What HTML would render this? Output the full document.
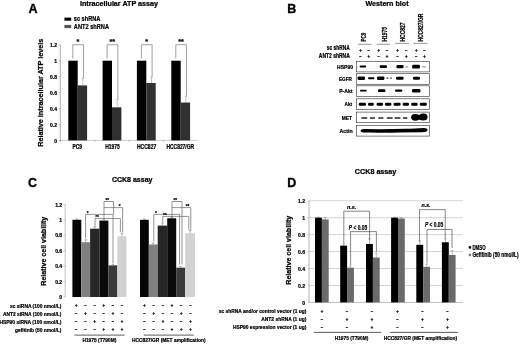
<!DOCTYPE html>
<html lang="en"><head><meta charset="utf-8"><title>Figure</title>
<style>
html,body{margin:0;padding:0;background:#fff;}
body{width:520px;height:344px;overflow:hidden;}
svg{display:block;filter:blur(0.35px);font-family:"Liberation Sans",Arial,Helvetica,sans-serif;}
</style></head><body>
<svg width="520" height="344" viewBox="0 0 520 344">
<rect width="520" height="344" fill="#fff"/>
<g id="panelA">
<text x="28.50" y="12.75" font-size="12.5" font-weight="bold" text-anchor="start" textLength="9.03" lengthAdjust="spacingAndGlyphs" fill="#000" stroke="#000" stroke-width="0.35">A</text>
<text x="119.00" y="6.40" font-size="7" font-weight="bold" text-anchor="middle" textLength="78.00" lengthAdjust="spacingAndGlyphs" fill="#000" stroke="#000" stroke-width="0.24">Intracellular ATP assay</text>
<rect x="64.40" y="17.60" width="6.80" height="3.10" fill="#000"/>
<text x="73.80" y="21.00" font-size="7.4" font-weight="bold" text-anchor="start" textLength="26.50" lengthAdjust="spacingAndGlyphs" fill="#000" stroke="#000" stroke-width="0.24">sc shRNA</text>
<rect x="64.40" y="24.90" width="6.80" height="3.20" fill="#555"/>
<text x="73.80" y="28.50" font-size="7.4" font-weight="bold" text-anchor="start" textLength="35.20" lengthAdjust="spacingAndGlyphs" fill="#000" stroke="#000" stroke-width="0.24">ANT2 shRNA</text>
<text x="42.60" y="92.80" font-size="7.2" font-weight="bold" text-anchor="middle" textLength="108.00" lengthAdjust="spacingAndGlyphs" fill="#000" stroke="#000" stroke-width="0.24" transform="rotate(-90 42.60 92.80)">Relative intracellular ATP levels</text>
<line x1="60.30" y1="44.76" x2="60.30" y2="141.90" stroke="#888" stroke-width="0.7"/>
<line x1="60.30" y1="140.40" x2="197.50" y2="140.40" stroke="#aaa" stroke-width="0.6"/>
<line x1="58.80" y1="140.40" x2="60.30" y2="140.40" stroke="#888" stroke-width="0.6"/>
<text x="57.00" y="142.60" font-size="6.2" font-weight="bold" text-anchor="end" textLength="2.83" lengthAdjust="spacingAndGlyphs" fill="#000" stroke="#000" stroke-width="0.24">0</text>
<line x1="58.80" y1="124.46" x2="60.30" y2="124.46" stroke="#888" stroke-width="0.6"/>
<text x="57.00" y="126.66" font-size="6.2" font-weight="bold" text-anchor="end" textLength="7.07" lengthAdjust="spacingAndGlyphs" fill="#000" stroke="#000" stroke-width="0.24">0.2</text>
<line x1="58.80" y1="108.52" x2="60.30" y2="108.52" stroke="#888" stroke-width="0.6"/>
<text x="57.00" y="110.72" font-size="6.2" font-weight="bold" text-anchor="end" textLength="7.07" lengthAdjust="spacingAndGlyphs" fill="#000" stroke="#000" stroke-width="0.24">0.4</text>
<line x1="58.80" y1="92.58" x2="60.30" y2="92.58" stroke="#888" stroke-width="0.6"/>
<text x="57.00" y="94.78" font-size="6.2" font-weight="bold" text-anchor="end" textLength="7.07" lengthAdjust="spacingAndGlyphs" fill="#000" stroke="#000" stroke-width="0.24">0.6</text>
<line x1="58.80" y1="76.64" x2="60.30" y2="76.64" stroke="#888" stroke-width="0.6"/>
<text x="57.00" y="78.84" font-size="6.2" font-weight="bold" text-anchor="end" textLength="7.07" lengthAdjust="spacingAndGlyphs" fill="#000" stroke="#000" stroke-width="0.24">0.8</text>
<line x1="58.80" y1="60.70" x2="60.30" y2="60.70" stroke="#888" stroke-width="0.6"/>
<text x="57.00" y="62.90" font-size="6.2" font-weight="bold" text-anchor="end" textLength="2.83" lengthAdjust="spacingAndGlyphs" fill="#000" stroke="#000" stroke-width="0.24">1</text>
<line x1="58.80" y1="44.76" x2="60.30" y2="44.76" stroke="#888" stroke-width="0.6"/>
<text x="57.00" y="46.96" font-size="6.2" font-weight="bold" text-anchor="end" textLength="7.07" lengthAdjust="spacingAndGlyphs" fill="#000" stroke="#000" stroke-width="0.24">1.2</text>
<rect x="68.30" y="60.70" width="9.40" height="79.70" fill="#000"/>
<rect x="77.70" y="85.41" width="9.40" height="54.99" fill="#303030"/>
<line x1="82.90" y1="78.63" x2="82.90" y2="85.41" stroke="#888" stroke-width="0.5"/>
<line x1="81.40" y1="78.63" x2="84.40" y2="78.63" stroke="#888" stroke-width="0.5"/>
<polyline points="72.80,58.50 72.80,44.76 83.50,44.76 83.50,78.13" fill="none" stroke="#777" stroke-width="0.7"/>
<text x="78.00" y="44.16" font-size="8" font-weight="bold" text-anchor="middle" textLength="2.80" lengthAdjust="spacingAndGlyphs" fill="#000" stroke="#000" stroke-width="0.24">*</text>
<text x="77.30" y="149.40" font-size="6.6" font-weight="bold" text-anchor="middle" textLength="9.60" lengthAdjust="spacingAndGlyphs" fill="#000" stroke="#000" stroke-width="0.24">PC9</text>
<line x1="94.80" y1="140.40" x2="94.80" y2="141.90" stroke="#888" stroke-width="0.6"/>
<rect x="102.60" y="60.70" width="9.40" height="79.70" fill="#000"/>
<rect x="112.00" y="107.32" width="9.40" height="33.08" fill="#303030"/>
<line x1="117.20" y1="99.35" x2="117.20" y2="107.32" stroke="#888" stroke-width="0.5"/>
<line x1="115.70" y1="99.35" x2="118.70" y2="99.35" stroke="#888" stroke-width="0.5"/>
<polyline points="107.10,58.50 107.10,44.76 117.80,44.76 117.80,98.85" fill="none" stroke="#777" stroke-width="0.7"/>
<text x="112.30" y="44.16" font-size="8" font-weight="bold" text-anchor="middle" textLength="5.60" lengthAdjust="spacingAndGlyphs" fill="#000" stroke="#000" stroke-width="0.24">**</text>
<text x="112.50" y="149.40" font-size="6.6" font-weight="bold" text-anchor="middle" textLength="14.60" lengthAdjust="spacingAndGlyphs" fill="#000" stroke="#000" stroke-width="0.24">H1975</text>
<line x1="129.10" y1="140.40" x2="129.10" y2="141.90" stroke="#888" stroke-width="0.6"/>
<rect x="136.90" y="60.70" width="9.40" height="79.70" fill="#000"/>
<rect x="146.30" y="83.02" width="9.40" height="57.38" fill="#303030"/>
<line x1="151.50" y1="77.04" x2="151.50" y2="83.02" stroke="#888" stroke-width="0.5"/>
<line x1="150.00" y1="77.04" x2="153.00" y2="77.04" stroke="#888" stroke-width="0.5"/>
<polyline points="141.40,58.50 141.40,44.76 152.10,44.76 152.10,76.54" fill="none" stroke="#777" stroke-width="0.7"/>
<text x="146.60" y="44.16" font-size="8" font-weight="bold" text-anchor="middle" textLength="2.80" lengthAdjust="spacingAndGlyphs" fill="#000" stroke="#000" stroke-width="0.24">*</text>
<text x="146.60" y="149.40" font-size="6.6" font-weight="bold" text-anchor="middle" textLength="19.30" lengthAdjust="spacingAndGlyphs" fill="#000" stroke="#000" stroke-width="0.24">HCC827</text>
<line x1="163.40" y1="140.40" x2="163.40" y2="141.90" stroke="#888" stroke-width="0.6"/>
<rect x="171.30" y="60.70" width="9.40" height="79.70" fill="#000"/>
<rect x="180.70" y="102.54" width="9.40" height="37.86" fill="#303030"/>
<line x1="185.90" y1="96.17" x2="185.90" y2="102.54" stroke="#888" stroke-width="0.5"/>
<line x1="184.40" y1="96.17" x2="187.40" y2="96.17" stroke="#888" stroke-width="0.5"/>
<polyline points="175.80,58.50 175.80,44.76 186.50,44.76 186.50,95.67" fill="none" stroke="#777" stroke-width="0.7"/>
<text x="181.00" y="44.16" font-size="8" font-weight="bold" text-anchor="middle" textLength="5.60" lengthAdjust="spacingAndGlyphs" fill="#000" stroke="#000" stroke-width="0.24">**</text>
<text x="180.30" y="149.40" font-size="6.6" font-weight="bold" text-anchor="middle" textLength="27.60" lengthAdjust="spacingAndGlyphs" fill="#000" stroke="#000" stroke-width="0.24">HCC827/GR</text>
</g>
<g id="panelB">
<text x="287.20" y="12.60" font-size="12.5" font-weight="bold" text-anchor="start" textLength="9.03" lengthAdjust="spacingAndGlyphs" fill="#000" stroke="#000" stroke-width="0.35">B</text>
<text x="387.00" y="6.40" font-size="7" font-weight="bold" text-anchor="middle" textLength="43.00" lengthAdjust="spacingAndGlyphs" fill="#000" stroke="#000" stroke-width="0.24">Western blot</text>
<text x="349.80" y="50.30" font-size="6.5" font-weight="bold" text-anchor="end" textLength="23.00" lengthAdjust="spacingAndGlyphs" fill="#000" stroke="#000" stroke-width="0.24">sc shRNA</text>
<text x="349.80" y="58.20" font-size="6.5" font-weight="bold" text-anchor="end" textLength="31.00" lengthAdjust="spacingAndGlyphs" fill="#000" stroke="#000" stroke-width="0.24">ANT2 shRNA</text>
<text x="360.40" y="51.90" font-size="4.8" font-weight="bold" text-anchor="middle" textLength="2.52" lengthAdjust="spacingAndGlyphs" fill="#000" stroke="#000" stroke-width="0.24">+</text>
<text x="360.40" y="57.60" font-size="4.8" font-weight="bold" text-anchor="middle" textLength="2.52" lengthAdjust="spacingAndGlyphs" fill="#000" stroke="#000" stroke-width="0.24">−</text>
<text x="368.80" y="51.90" font-size="4.8" font-weight="bold" text-anchor="middle" textLength="2.52" lengthAdjust="spacingAndGlyphs" fill="#000" stroke="#000" stroke-width="0.24">−</text>
<text x="368.80" y="57.60" font-size="4.8" font-weight="bold" text-anchor="middle" textLength="2.52" lengthAdjust="spacingAndGlyphs" fill="#000" stroke="#000" stroke-width="0.24">+</text>
<text x="378.80" y="51.90" font-size="4.8" font-weight="bold" text-anchor="middle" textLength="2.52" lengthAdjust="spacingAndGlyphs" fill="#000" stroke="#000" stroke-width="0.24">+</text>
<text x="378.80" y="57.60" font-size="4.8" font-weight="bold" text-anchor="middle" textLength="2.52" lengthAdjust="spacingAndGlyphs" fill="#000" stroke="#000" stroke-width="0.24">−</text>
<text x="387.00" y="51.90" font-size="4.8" font-weight="bold" text-anchor="middle" textLength="2.52" lengthAdjust="spacingAndGlyphs" fill="#000" stroke="#000" stroke-width="0.24">−</text>
<text x="387.00" y="57.60" font-size="4.8" font-weight="bold" text-anchor="middle" textLength="2.52" lengthAdjust="spacingAndGlyphs" fill="#000" stroke="#000" stroke-width="0.24">+</text>
<text x="397.50" y="51.90" font-size="4.8" font-weight="bold" text-anchor="middle" textLength="2.52" lengthAdjust="spacingAndGlyphs" fill="#000" stroke="#000" stroke-width="0.24">+</text>
<text x="397.50" y="57.60" font-size="4.8" font-weight="bold" text-anchor="middle" textLength="2.52" lengthAdjust="spacingAndGlyphs" fill="#000" stroke="#000" stroke-width="0.24">−</text>
<text x="406.20" y="51.90" font-size="4.8" font-weight="bold" text-anchor="middle" textLength="2.52" lengthAdjust="spacingAndGlyphs" fill="#000" stroke="#000" stroke-width="0.24">−</text>
<text x="406.20" y="57.60" font-size="4.8" font-weight="bold" text-anchor="middle" textLength="2.52" lengthAdjust="spacingAndGlyphs" fill="#000" stroke="#000" stroke-width="0.24">+</text>
<text x="416.20" y="51.90" font-size="4.8" font-weight="bold" text-anchor="middle" textLength="2.52" lengthAdjust="spacingAndGlyphs" fill="#000" stroke="#000" stroke-width="0.24">+</text>
<text x="416.20" y="57.60" font-size="4.8" font-weight="bold" text-anchor="middle" textLength="2.52" lengthAdjust="spacingAndGlyphs" fill="#000" stroke="#000" stroke-width="0.24">−</text>
<text x="424.60" y="51.90" font-size="4.8" font-weight="bold" text-anchor="middle" textLength="2.52" lengthAdjust="spacingAndGlyphs" fill="#000" stroke="#000" stroke-width="0.24">−</text>
<text x="424.60" y="57.60" font-size="4.8" font-weight="bold" text-anchor="middle" textLength="2.52" lengthAdjust="spacingAndGlyphs" fill="#000" stroke="#000" stroke-width="0.24">+</text>
<text x="366.50" y="41.60" font-size="6.5" font-weight="bold" text-anchor="start" textLength="8.80" lengthAdjust="spacingAndGlyphs" fill="#000" stroke="#000" stroke-width="0.25" transform="rotate(-90 366.50 41.60)">PC9</text>
<text x="386.60" y="41.60" font-size="6.5" font-weight="bold" text-anchor="start" textLength="14.50" lengthAdjust="spacingAndGlyphs" fill="#000" stroke="#000" stroke-width="0.25" transform="rotate(-90 386.60 41.60)">H1975</text>
<text x="405.30" y="41.60" font-size="6.5" font-weight="bold" text-anchor="start" textLength="19.20" lengthAdjust="spacingAndGlyphs" fill="#000" stroke="#000" stroke-width="0.25" transform="rotate(-90 405.30 41.60)">HCC827</text>
<text x="422.80" y="41.60" font-size="6.5" font-weight="bold" text-anchor="start" textLength="28.00" lengthAdjust="spacingAndGlyphs" fill="#000" stroke="#000" stroke-width="0.25" transform="rotate(-90 422.80 41.60)">HCC827/GR</text>
<line x1="358.00" y1="44.30" x2="371.60" y2="44.30" stroke="#555" stroke-width="0.6"/>
<line x1="376.60" y1="44.30" x2="390.00" y2="44.30" stroke="#555" stroke-width="0.6"/>
<line x1="395.00" y1="43.40" x2="409.00" y2="43.40" stroke="#555" stroke-width="0.6"/>
<line x1="413.50" y1="43.40" x2="427.40" y2="43.40" stroke="#555" stroke-width="0.6"/>
<rect x="356.4" y="61.3" width="73.20" height="10.6" fill="#fff" stroke="#3a3a3a" stroke-width="0.65"/>
<text x="353.00" y="68.90" font-size="6.2" font-weight="bold" text-anchor="end" textLength="16.00" lengthAdjust="spacingAndGlyphs" fill="#000" stroke="#000" stroke-width="0.24">HSP90</text>
<rect x="356.4" y="73.7" width="73.20" height="10.6" fill="#fff" stroke="#3a3a3a" stroke-width="0.65"/>
<text x="352.00" y="81.30" font-size="6.2" font-weight="bold" text-anchor="end" textLength="13.00" lengthAdjust="spacingAndGlyphs" fill="#000" stroke="#000" stroke-width="0.24">EGFR</text>
<rect x="356.4" y="85.8" width="73.20" height="10.6" fill="#fff" stroke="#3a3a3a" stroke-width="0.65"/>
<text x="352.40" y="93.40" font-size="6.2" font-weight="bold" text-anchor="end" textLength="13.20" lengthAdjust="spacingAndGlyphs" fill="#000" stroke="#000" stroke-width="0.24">P-Akt</text>
<rect x="356.4" y="98.8" width="73.20" height="10.6" fill="#fff" stroke="#3a3a3a" stroke-width="0.65"/>
<text x="352.20" y="106.40" font-size="6.2" font-weight="bold" text-anchor="end" textLength="7.60" lengthAdjust="spacingAndGlyphs" fill="#000" stroke="#000" stroke-width="0.24">Akt</text>
<rect x="356.4" y="112.1" width="73.20" height="10.6" fill="#fff" stroke="#3a3a3a" stroke-width="0.65"/>
<text x="352.00" y="119.70" font-size="6.2" font-weight="bold" text-anchor="end" textLength="10.30" lengthAdjust="spacingAndGlyphs" fill="#000" stroke="#000" stroke-width="0.24">MET</text>
<rect x="356.4" y="125.5" width="73.20" height="10.6" fill="#fff" stroke="#3a3a3a" stroke-width="0.65"/>
<text x="352.60" y="133.10" font-size="6.2" font-weight="bold" text-anchor="end" textLength="13.00" lengthAdjust="spacingAndGlyphs" fill="#000" stroke="#000" stroke-width="0.24">Actin</text>
<rect x="359.60" y="65.60" width="6.60" height="2.00" rx="1.00" fill="#000" opacity="1"/>
<rect x="379.60" y="65.30" width="7.40" height="2.60" rx="1.20" fill="#000" opacity="1"/>
<rect x="396.40" y="65.00" width="7.20" height="3.20" rx="1.20" fill="#000" opacity="1"/>
<rect x="405.20" y="66.45" width="3.00" height="0.90" rx="0.45" fill="#555" opacity="1"/>
<rect x="412.20" y="64.80" width="7.80" height="3.60" rx="1.20" fill="#000" opacity="1"/>
<rect x="422.00" y="66.45" width="4.00" height="0.90" rx="0.45" fill="#555" opacity="1"/>
<rect x="357.60" y="76.40" width="7.40" height="3.60" rx="1.20" fill="#000" opacity="1"/>
<rect x="368.00" y="77.20" width="6.40" height="2.00" rx="1.00" fill="#000" opacity="1"/>
<rect x="377.00" y="76.40" width="7.40" height="3.60" rx="1.20" fill="#000" opacity="1"/>
<rect x="386.40" y="77.60" width="2.20" height="1.20" rx="0.60" fill="#444" opacity="1"/>
<rect x="389.80" y="77.60" width="2.20" height="1.20" rx="0.60" fill="#555" opacity="1"/>
<rect x="396.00" y="76.70" width="7.60" height="3.00" rx="1.20" fill="#000" opacity="1"/>
<rect x="413.00" y="76.70" width="7.00" height="3.00" rx="1.20" fill="#000" opacity="1"/>
<rect x="360.00" y="89.80" width="6.80" height="1.80" rx="0.90" fill="#000" opacity="1"/>
<rect x="378.00" y="89.30" width="7.40" height="2.80" rx="1.20" fill="#000" opacity="1"/>
<rect x="395.00" y="89.60" width="7.40" height="2.20" rx="1.10" fill="#000" opacity="1"/>
<rect x="412.00" y="89.00" width="8.40" height="3.40" rx="1.20" fill="#000" opacity="1"/>
<rect x="358.80" y="102.70" width="7.20" height="3.00" rx="1.20" fill="#000" opacity="1"/>
<rect x="368.00" y="102.70" width="5.80" height="3.00" rx="1.20" fill="#000" opacity="1"/>
<rect x="376.60" y="102.70" width="6.40" height="3.00" rx="1.20" fill="#000" opacity="1"/>
<rect x="385.00" y="102.70" width="6.40" height="3.00" rx="1.20" fill="#000" opacity="1"/>
<rect x="393.60" y="102.70" width="7.00" height="3.00" rx="1.20" fill="#000" opacity="1"/>
<rect x="402.70" y="102.70" width="6.30" height="3.00" rx="1.20" fill="#000" opacity="1"/>
<rect x="411.20" y="102.70" width="6.40" height="3.00" rx="1.20" fill="#000" opacity="1"/>
<rect x="419.80" y="102.70" width="7.00" height="3.00" rx="1.20" fill="#000" opacity="1"/>
<rect x="361.20" y="117.35" width="6.20" height="1.30" rx="0.65" fill="#222" opacity="1"/>
<rect x="369.70" y="117.35" width="5.40" height="1.30" rx="0.65" fill="#222" opacity="1"/>
<rect x="378.20" y="117.35" width="5.40" height="1.30" rx="0.65" fill="#222" opacity="1"/>
<rect x="386.70" y="117.35" width="6.10" height="1.30" rx="0.65" fill="#222" opacity="1"/>
<rect x="394.40" y="117.35" width="6.10" height="1.30" rx="0.65" fill="#222" opacity="1"/>
<rect x="402.80" y="117.35" width="4.80" height="1.30" rx="0.65" fill="#222" opacity="1"/>
<ellipse cx="415.4" cy="117.3" rx="4.3" ry="3.4" fill="#000"/><ellipse cx="423.2" cy="117.1" rx="4.4" ry="3.5" fill="#000"/><rect x="414" y="115" width="10" height="4.6" fill="#000"/>
<path d="M360.4 130.6 Q361 129 364 129 L380 129.3 Q395 128.6 410 128.7 L424 128 Q427.6 128 427.6 130 Q427.4 132.2 422 132.3 L400 132.6 Q385 133 370 132.6 L363 132.4 Q360.4 132.2 360.4 130.6Z" fill="#000"/>
</g>
<g id="panelC">
<text x="28.10" y="186.60" font-size="12.5" font-weight="bold" text-anchor="start" textLength="9.03" lengthAdjust="spacingAndGlyphs" fill="#000" stroke="#000" stroke-width="0.35">C</text>
<text x="132.20" y="182.00" font-size="7" font-weight="bold" text-anchor="middle" textLength="40.60" lengthAdjust="spacingAndGlyphs" fill="#000" stroke="#000" stroke-width="0.24">CCK8 assay</text>
<text x="45.80" y="251.20" font-size="7.1" font-weight="bold" text-anchor="middle" textLength="69.00" lengthAdjust="spacingAndGlyphs" fill="#000" stroke="#000" stroke-width="0.24" transform="rotate(-90 45.80 251.20)">Relative cell viability</text>
<line x1="65.20" y1="204.36" x2="65.20" y2="297.00" stroke="#b4b4b4" stroke-width="0.8"/>
<line x1="63.70" y1="297.00" x2="65.20" y2="297.00" stroke="#aaa" stroke-width="0.6"/>
<text x="62.20" y="299.20" font-size="6.2" font-weight="bold" text-anchor="end" textLength="2.83" lengthAdjust="spacingAndGlyphs" fill="#000" stroke="#000" stroke-width="0.24">0</text>
<line x1="63.70" y1="281.56" x2="65.20" y2="281.56" stroke="#aaa" stroke-width="0.6"/>
<text x="62.20" y="283.76" font-size="6.2" font-weight="bold" text-anchor="end" textLength="7.07" lengthAdjust="spacingAndGlyphs" fill="#000" stroke="#000" stroke-width="0.24">0.2</text>
<line x1="63.70" y1="266.12" x2="65.20" y2="266.12" stroke="#aaa" stroke-width="0.6"/>
<text x="62.20" y="268.32" font-size="6.2" font-weight="bold" text-anchor="end" textLength="7.07" lengthAdjust="spacingAndGlyphs" fill="#000" stroke="#000" stroke-width="0.24">0.4</text>
<line x1="63.70" y1="250.68" x2="65.20" y2="250.68" stroke="#aaa" stroke-width="0.6"/>
<text x="62.20" y="252.88" font-size="6.2" font-weight="bold" text-anchor="end" textLength="7.07" lengthAdjust="spacingAndGlyphs" fill="#000" stroke="#000" stroke-width="0.24">0.6</text>
<line x1="63.70" y1="235.24" x2="65.20" y2="235.24" stroke="#aaa" stroke-width="0.6"/>
<text x="62.20" y="237.44" font-size="6.2" font-weight="bold" text-anchor="end" textLength="7.07" lengthAdjust="spacingAndGlyphs" fill="#000" stroke="#000" stroke-width="0.24">0.8</text>
<line x1="63.70" y1="219.80" x2="65.20" y2="219.80" stroke="#aaa" stroke-width="0.6"/>
<text x="62.20" y="222.00" font-size="6.2" font-weight="bold" text-anchor="end" textLength="2.83" lengthAdjust="spacingAndGlyphs" fill="#000" stroke="#000" stroke-width="0.24">1</text>
<line x1="63.70" y1="204.36" x2="65.20" y2="204.36" stroke="#aaa" stroke-width="0.6"/>
<text x="62.20" y="206.56" font-size="6.2" font-weight="bold" text-anchor="end" textLength="7.07" lengthAdjust="spacingAndGlyphs" fill="#000" stroke="#000" stroke-width="0.24">1.2</text>
<rect x="72.40" y="219.80" width="8.90" height="77.20" fill="#050505"/>
<line x1="76.85" y1="219.03" x2="76.85" y2="219.80" stroke="#666" stroke-width="0.5"/>
<line x1="75.45" y1="219.03" x2="78.25" y2="219.03" stroke="#666" stroke-width="0.5"/>
<rect x="81.30" y="242.19" width="8.80" height="54.81" fill="#808080"/>
<line x1="85.70" y1="239.87" x2="85.70" y2="242.19" stroke="#666" stroke-width="0.5"/>
<line x1="84.30" y1="239.87" x2="87.10" y2="239.87" stroke="#666" stroke-width="0.5"/>
<rect x="90.10" y="228.68" width="9.30" height="68.32" fill="#262626"/>
<line x1="94.75" y1="227.13" x2="94.75" y2="228.68" stroke="#666" stroke-width="0.5"/>
<line x1="93.35" y1="227.13" x2="96.15" y2="227.13" stroke="#666" stroke-width="0.5"/>
<rect x="99.40" y="220.57" width="9.00" height="76.43" fill="#0a0a0a"/>
<line x1="103.90" y1="219.41" x2="103.90" y2="220.57" stroke="#666" stroke-width="0.5"/>
<line x1="102.50" y1="219.41" x2="105.30" y2="219.41" stroke="#666" stroke-width="0.5"/>
<rect x="108.40" y="265.35" width="9.00" height="31.65" fill="#3a3a3a"/>
<line x1="112.90" y1="264.19" x2="112.90" y2="265.35" stroke="#666" stroke-width="0.5"/>
<line x1="111.50" y1="264.19" x2="114.30" y2="264.19" stroke="#666" stroke-width="0.5"/>
<rect x="117.40" y="236.40" width="9.00" height="60.60" fill="#d2d2d2"/>
<line x1="121.90" y1="233.31" x2="121.90" y2="236.40" stroke="#666" stroke-width="0.5"/>
<line x1="120.50" y1="233.31" x2="123.30" y2="233.31" stroke="#666" stroke-width="0.5"/>
<rect x="140.00" y="219.80" width="8.80" height="77.20" fill="#050505"/>
<line x1="144.40" y1="219.03" x2="144.40" y2="219.80" stroke="#666" stroke-width="0.5"/>
<line x1="143.00" y1="219.03" x2="145.80" y2="219.03" stroke="#666" stroke-width="0.5"/>
<rect x="148.80" y="244.50" width="8.90" height="52.50" fill="#808080"/>
<line x1="153.25" y1="242.96" x2="153.25" y2="244.50" stroke="#666" stroke-width="0.5"/>
<line x1="151.85" y1="242.96" x2="154.65" y2="242.96" stroke="#666" stroke-width="0.5"/>
<rect x="157.70" y="225.59" width="9.50" height="71.41" fill="#262626"/>
<line x1="162.45" y1="222.89" x2="162.45" y2="225.59" stroke="#666" stroke-width="0.5"/>
<line x1="161.05" y1="222.89" x2="163.85" y2="222.89" stroke="#666" stroke-width="0.5"/>
<rect x="167.20" y="218.26" width="9.00" height="78.74" fill="#0a0a0a"/>
<line x1="171.70" y1="217.10" x2="171.70" y2="218.26" stroke="#666" stroke-width="0.5"/>
<line x1="170.30" y1="217.10" x2="173.10" y2="217.10" stroke="#666" stroke-width="0.5"/>
<rect x="176.20" y="267.66" width="9.00" height="29.34" fill="#3a3a3a"/>
<line x1="180.70" y1="266.51" x2="180.70" y2="267.66" stroke="#666" stroke-width="0.5"/>
<line x1="179.30" y1="266.51" x2="182.10" y2="266.51" stroke="#666" stroke-width="0.5"/>
<rect x="185.20" y="233.31" width="9.80" height="63.69" fill="#d2d2d2"/>
<line x1="190.10" y1="230.61" x2="190.10" y2="233.31" stroke="#666" stroke-width="0.5"/>
<line x1="188.70" y1="230.61" x2="191.50" y2="230.61" stroke="#666" stroke-width="0.5"/>
<polyline points="85.60,238.33 85.60,214.40 113.00,214.40 113.00,263.03" fill="none" stroke="#666" stroke-width="0.7"/>
<polyline points="95.00,226.75 95.00,218.50 120.40,218.50 120.40,232.15" fill="none" stroke="#666" stroke-width="0.7"/>
<polyline points="104.00,219.00 104.00,201.50 113.60,201.50 113.60,214.40" fill="none" stroke="#666" stroke-width="0.7"/>
<polyline points="104.00,207.60 122.60,207.60 122.60,232.15" fill="none" stroke="#666" stroke-width="0.7"/>
<text x="87.60" y="215.00" font-size="5.5" font-weight="bold" text-anchor="middle" textLength="1.76" lengthAdjust="spacingAndGlyphs" fill="#000" stroke="#000" stroke-width="0.24">*</text>
<text x="97.20" y="217.30" font-size="3.6" font-weight="bold" text-anchor="middle" textLength="3.44" lengthAdjust="spacingAndGlyphs" fill="#000" stroke="#000" stroke-width="0.24">ns</text>
<text x="107.20" y="202.00" font-size="5.5" font-weight="bold" text-anchor="middle" textLength="3.51" lengthAdjust="spacingAndGlyphs" fill="#000" stroke="#000" stroke-width="0.24">**</text>
<text x="119.60" y="208.00" font-size="5.5" font-weight="bold" text-anchor="middle" textLength="1.76" lengthAdjust="spacingAndGlyphs" fill="#000" stroke="#000" stroke-width="0.24">*</text>
<polyline points="153.80,241.42 153.80,214.40 179.60,214.40 179.60,264.58" fill="none" stroke="#666" stroke-width="0.7"/>
<polyline points="162.80,222.12 162.80,216.40 188.80,216.40 188.80,229.84" fill="none" stroke="#666" stroke-width="0.7"/>
<polyline points="172.00,218.00 172.00,201.50 182.00,201.50 182.00,264.58" fill="none" stroke="#666" stroke-width="0.7"/>
<polyline points="172.00,207.60 190.80,207.60 190.80,229.84" fill="none" stroke="#666" stroke-width="0.7"/>
<text x="156.00" y="215.20" font-size="5.5" font-weight="bold" text-anchor="middle" textLength="1.76" lengthAdjust="spacingAndGlyphs" fill="#000" stroke="#000" stroke-width="0.24">*</text>
<text x="165.00" y="215.30" font-size="3.6" font-weight="bold" text-anchor="middle" textLength="3.44" lengthAdjust="spacingAndGlyphs" fill="#000" stroke="#000" stroke-width="0.24">ns</text>
<text x="175.20" y="202.00" font-size="5.5" font-weight="bold" text-anchor="middle" textLength="3.51" lengthAdjust="spacingAndGlyphs" fill="#000" stroke="#000" stroke-width="0.24">**</text>
<text x="187.60" y="208.40" font-size="5.5" font-weight="bold" text-anchor="middle" textLength="3.51" lengthAdjust="spacingAndGlyphs" fill="#000" stroke="#000" stroke-width="0.24">**</text>
<text x="61.40" y="307.50" font-size="6" font-weight="bold" text-anchor="end" textLength="51.40" lengthAdjust="spacingAndGlyphs" fill="#000" stroke="#000" stroke-width="0.24">sc siRNA (100 nmol/L)</text>
<text x="76.30" y="307.20" font-size="4.6" font-weight="bold" text-anchor="middle" textLength="2.42" lengthAdjust="spacingAndGlyphs" fill="#000" stroke="#000" stroke-width="0.24">+</text>
<text x="85.50" y="307.20" font-size="4.6" font-weight="bold" text-anchor="middle" textLength="2.42" lengthAdjust="spacingAndGlyphs" fill="#000" stroke="#000" stroke-width="0.24">−</text>
<text x="94.60" y="307.20" font-size="4.6" font-weight="bold" text-anchor="middle" textLength="2.42" lengthAdjust="spacingAndGlyphs" fill="#000" stroke="#000" stroke-width="0.24">−</text>
<text x="103.80" y="307.20" font-size="4.6" font-weight="bold" text-anchor="middle" textLength="2.42" lengthAdjust="spacingAndGlyphs" fill="#000" stroke="#000" stroke-width="0.24">+</text>
<text x="113.00" y="307.20" font-size="4.6" font-weight="bold" text-anchor="middle" textLength="2.42" lengthAdjust="spacingAndGlyphs" fill="#000" stroke="#000" stroke-width="0.24">−</text>
<text x="122.00" y="307.20" font-size="4.6" font-weight="bold" text-anchor="middle" textLength="2.42" lengthAdjust="spacingAndGlyphs" fill="#000" stroke="#000" stroke-width="0.24">−</text>
<text x="144.50" y="307.20" font-size="4.6" font-weight="bold" text-anchor="middle" textLength="2.42" lengthAdjust="spacingAndGlyphs" fill="#000" stroke="#000" stroke-width="0.24">+</text>
<text x="153.80" y="307.20" font-size="4.6" font-weight="bold" text-anchor="middle" textLength="2.42" lengthAdjust="spacingAndGlyphs" fill="#000" stroke="#000" stroke-width="0.24">−</text>
<text x="163.00" y="307.20" font-size="4.6" font-weight="bold" text-anchor="middle" textLength="2.42" lengthAdjust="spacingAndGlyphs" fill="#000" stroke="#000" stroke-width="0.24">−</text>
<text x="172.00" y="307.20" font-size="4.6" font-weight="bold" text-anchor="middle" textLength="2.42" lengthAdjust="spacingAndGlyphs" fill="#000" stroke="#000" stroke-width="0.24">+</text>
<text x="181.30" y="307.20" font-size="4.6" font-weight="bold" text-anchor="middle" textLength="2.42" lengthAdjust="spacingAndGlyphs" fill="#000" stroke="#000" stroke-width="0.24">−</text>
<text x="190.50" y="307.20" font-size="4.6" font-weight="bold" text-anchor="middle" textLength="2.42" lengthAdjust="spacingAndGlyphs" fill="#000" stroke="#000" stroke-width="0.24">−</text>
<text x="61.40" y="315.60" font-size="6" font-weight="bold" text-anchor="end" textLength="58.40" lengthAdjust="spacingAndGlyphs" fill="#000" stroke="#000" stroke-width="0.24">ANT2 siRNA (100 nmol/L)</text>
<text x="76.30" y="315.30" font-size="4.6" font-weight="bold" text-anchor="middle" textLength="2.42" lengthAdjust="spacingAndGlyphs" fill="#000" stroke="#000" stroke-width="0.24">−</text>
<text x="85.50" y="315.30" font-size="4.6" font-weight="bold" text-anchor="middle" textLength="2.42" lengthAdjust="spacingAndGlyphs" fill="#000" stroke="#000" stroke-width="0.24">+</text>
<text x="94.60" y="315.30" font-size="4.6" font-weight="bold" text-anchor="middle" textLength="2.42" lengthAdjust="spacingAndGlyphs" fill="#000" stroke="#000" stroke-width="0.24">−</text>
<text x="103.80" y="315.30" font-size="4.6" font-weight="bold" text-anchor="middle" textLength="2.42" lengthAdjust="spacingAndGlyphs" fill="#000" stroke="#000" stroke-width="0.24">−</text>
<text x="113.00" y="315.30" font-size="4.6" font-weight="bold" text-anchor="middle" textLength="2.42" lengthAdjust="spacingAndGlyphs" fill="#000" stroke="#000" stroke-width="0.24">+</text>
<text x="122.00" y="315.30" font-size="4.6" font-weight="bold" text-anchor="middle" textLength="2.42" lengthAdjust="spacingAndGlyphs" fill="#000" stroke="#000" stroke-width="0.24">−</text>
<text x="144.50" y="315.30" font-size="4.6" font-weight="bold" text-anchor="middle" textLength="2.42" lengthAdjust="spacingAndGlyphs" fill="#000" stroke="#000" stroke-width="0.24">−</text>
<text x="153.80" y="315.30" font-size="4.6" font-weight="bold" text-anchor="middle" textLength="2.42" lengthAdjust="spacingAndGlyphs" fill="#000" stroke="#000" stroke-width="0.24">+</text>
<text x="163.00" y="315.30" font-size="4.6" font-weight="bold" text-anchor="middle" textLength="2.42" lengthAdjust="spacingAndGlyphs" fill="#000" stroke="#000" stroke-width="0.24">−</text>
<text x="172.00" y="315.30" font-size="4.6" font-weight="bold" text-anchor="middle" textLength="2.42" lengthAdjust="spacingAndGlyphs" fill="#000" stroke="#000" stroke-width="0.24">−</text>
<text x="181.30" y="315.30" font-size="4.6" font-weight="bold" text-anchor="middle" textLength="2.42" lengthAdjust="spacingAndGlyphs" fill="#000" stroke="#000" stroke-width="0.24">+</text>
<text x="190.50" y="315.30" font-size="4.6" font-weight="bold" text-anchor="middle" textLength="2.42" lengthAdjust="spacingAndGlyphs" fill="#000" stroke="#000" stroke-width="0.24">−</text>
<text x="61.40" y="323.60" font-size="6" font-weight="bold" text-anchor="end" textLength="62.00" lengthAdjust="spacingAndGlyphs" fill="#000" stroke="#000" stroke-width="0.24">HSP90 siRNA (100 nmol/L)</text>
<text x="76.30" y="323.30" font-size="4.6" font-weight="bold" text-anchor="middle" textLength="2.42" lengthAdjust="spacingAndGlyphs" fill="#000" stroke="#000" stroke-width="0.24">−</text>
<text x="85.50" y="323.30" font-size="4.6" font-weight="bold" text-anchor="middle" textLength="2.42" lengthAdjust="spacingAndGlyphs" fill="#000" stroke="#000" stroke-width="0.24">−</text>
<text x="94.60" y="323.30" font-size="4.6" font-weight="bold" text-anchor="middle" textLength="2.42" lengthAdjust="spacingAndGlyphs" fill="#000" stroke="#000" stroke-width="0.24">+</text>
<text x="103.80" y="323.30" font-size="4.6" font-weight="bold" text-anchor="middle" textLength="2.42" lengthAdjust="spacingAndGlyphs" fill="#000" stroke="#000" stroke-width="0.24">−</text>
<text x="113.00" y="323.30" font-size="4.6" font-weight="bold" text-anchor="middle" textLength="2.42" lengthAdjust="spacingAndGlyphs" fill="#000" stroke="#000" stroke-width="0.24">−</text>
<text x="122.00" y="323.30" font-size="4.6" font-weight="bold" text-anchor="middle" textLength="2.42" lengthAdjust="spacingAndGlyphs" fill="#000" stroke="#000" stroke-width="0.24">+</text>
<text x="144.50" y="323.30" font-size="4.6" font-weight="bold" text-anchor="middle" textLength="2.42" lengthAdjust="spacingAndGlyphs" fill="#000" stroke="#000" stroke-width="0.24">−</text>
<text x="153.80" y="323.30" font-size="4.6" font-weight="bold" text-anchor="middle" textLength="2.42" lengthAdjust="spacingAndGlyphs" fill="#000" stroke="#000" stroke-width="0.24">−</text>
<text x="163.00" y="323.30" font-size="4.6" font-weight="bold" text-anchor="middle" textLength="2.42" lengthAdjust="spacingAndGlyphs" fill="#000" stroke="#000" stroke-width="0.24">+</text>
<text x="172.00" y="323.30" font-size="4.6" font-weight="bold" text-anchor="middle" textLength="2.42" lengthAdjust="spacingAndGlyphs" fill="#000" stroke="#000" stroke-width="0.24">−</text>
<text x="181.30" y="323.30" font-size="4.6" font-weight="bold" text-anchor="middle" textLength="2.42" lengthAdjust="spacingAndGlyphs" fill="#000" stroke="#000" stroke-width="0.24">−</text>
<text x="190.50" y="323.30" font-size="4.6" font-weight="bold" text-anchor="middle" textLength="2.42" lengthAdjust="spacingAndGlyphs" fill="#000" stroke="#000" stroke-width="0.24">+</text>
<text x="61.40" y="331.60" font-size="6" font-weight="bold" text-anchor="end" textLength="46.40" lengthAdjust="spacingAndGlyphs" fill="#000" stroke="#000" stroke-width="0.24">gefitinib (50 nmol/L)</text>
<text x="76.30" y="331.30" font-size="4.6" font-weight="bold" text-anchor="middle" textLength="2.42" lengthAdjust="spacingAndGlyphs" fill="#000" stroke="#000" stroke-width="0.24">−</text>
<text x="85.50" y="331.30" font-size="4.6" font-weight="bold" text-anchor="middle" textLength="2.42" lengthAdjust="spacingAndGlyphs" fill="#000" stroke="#000" stroke-width="0.24">−</text>
<text x="94.60" y="331.30" font-size="4.6" font-weight="bold" text-anchor="middle" textLength="2.42" lengthAdjust="spacingAndGlyphs" fill="#000" stroke="#000" stroke-width="0.24">−</text>
<text x="103.80" y="331.30" font-size="4.6" font-weight="bold" text-anchor="middle" textLength="2.42" lengthAdjust="spacingAndGlyphs" fill="#000" stroke="#000" stroke-width="0.24">+</text>
<text x="113.00" y="331.30" font-size="4.6" font-weight="bold" text-anchor="middle" textLength="2.42" lengthAdjust="spacingAndGlyphs" fill="#000" stroke="#000" stroke-width="0.24">+</text>
<text x="122.00" y="331.30" font-size="4.6" font-weight="bold" text-anchor="middle" textLength="2.42" lengthAdjust="spacingAndGlyphs" fill="#000" stroke="#000" stroke-width="0.24">+</text>
<text x="144.50" y="331.30" font-size="4.6" font-weight="bold" text-anchor="middle" textLength="2.42" lengthAdjust="spacingAndGlyphs" fill="#000" stroke="#000" stroke-width="0.24">−</text>
<text x="153.80" y="331.30" font-size="4.6" font-weight="bold" text-anchor="middle" textLength="2.42" lengthAdjust="spacingAndGlyphs" fill="#000" stroke="#000" stroke-width="0.24">−</text>
<text x="163.00" y="331.30" font-size="4.6" font-weight="bold" text-anchor="middle" textLength="2.42" lengthAdjust="spacingAndGlyphs" fill="#000" stroke="#000" stroke-width="0.24">−</text>
<text x="172.00" y="331.30" font-size="4.6" font-weight="bold" text-anchor="middle" textLength="2.42" lengthAdjust="spacingAndGlyphs" fill="#000" stroke="#000" stroke-width="0.24">+</text>
<text x="181.30" y="331.30" font-size="4.6" font-weight="bold" text-anchor="middle" textLength="2.42" lengthAdjust="spacingAndGlyphs" fill="#000" stroke="#000" stroke-width="0.24">+</text>
<text x="190.50" y="331.30" font-size="4.6" font-weight="bold" text-anchor="middle" textLength="2.42" lengthAdjust="spacingAndGlyphs" fill="#000" stroke="#000" stroke-width="0.24">+</text>
<line x1="74.50" y1="335.10" x2="124.60" y2="335.10" stroke="#333" stroke-width="0.8"/>
<line x1="143.80" y1="335.10" x2="193.80" y2="335.10" stroke="#333" stroke-width="0.8"/>
<text x="99.40" y="342.20" font-size="6" font-weight="bold" text-anchor="middle" textLength="34.00" lengthAdjust="spacingAndGlyphs" fill="#000" stroke="#000" stroke-width="0.24">H1975 (T790M)</text>
<text x="168.80" y="342.20" font-size="6" font-weight="bold" text-anchor="middle" textLength="73.50" lengthAdjust="spacingAndGlyphs" fill="#000" stroke="#000" stroke-width="0.24">HCC827/GR (MET amplification)</text>
</g>
<g id="panelD">
<text x="287.20" y="186.50" font-size="12.5" font-weight="bold" text-anchor="start" textLength="9.03" lengthAdjust="spacingAndGlyphs" fill="#000" stroke="#000" stroke-width="0.35">D</text>
<text x="375.60" y="173.80" font-size="7" font-weight="bold" text-anchor="middle" textLength="41.50" lengthAdjust="spacingAndGlyphs" fill="#000" stroke="#000" stroke-width="0.24">CCK8 assay</text>
<text x="290.60" y="250.20" font-size="7.1" font-weight="bold" text-anchor="middle" textLength="69.00" lengthAdjust="spacingAndGlyphs" fill="#000" stroke="#000" stroke-width="0.24" transform="rotate(-90 290.60 250.20)">Relative cell viability</text>
<line x1="307.50" y1="302.40" x2="462.80" y2="302.40" stroke="#a0a0a0" stroke-width="0.7"/>
<text x="305.00" y="304.60" font-size="6.2" font-weight="bold" text-anchor="end" textLength="2.83" lengthAdjust="spacingAndGlyphs" fill="#000" stroke="#000" stroke-width="0.24">0</text>
<line x1="307.50" y1="285.46" x2="462.80" y2="285.46" stroke="#c0c0c0" stroke-width="0.7"/>
<text x="305.00" y="287.66" font-size="6.2" font-weight="bold" text-anchor="end" textLength="7.07" lengthAdjust="spacingAndGlyphs" fill="#000" stroke="#000" stroke-width="0.24">0.2</text>
<line x1="307.50" y1="268.52" x2="462.80" y2="268.52" stroke="#c0c0c0" stroke-width="0.7"/>
<text x="305.00" y="270.72" font-size="6.2" font-weight="bold" text-anchor="end" textLength="7.07" lengthAdjust="spacingAndGlyphs" fill="#000" stroke="#000" stroke-width="0.24">0.4</text>
<line x1="307.50" y1="251.58" x2="462.80" y2="251.58" stroke="#c0c0c0" stroke-width="0.7"/>
<text x="305.00" y="253.78" font-size="6.2" font-weight="bold" text-anchor="end" textLength="7.07" lengthAdjust="spacingAndGlyphs" fill="#000" stroke="#000" stroke-width="0.24">0.6</text>
<line x1="307.50" y1="234.64" x2="462.80" y2="234.64" stroke="#c0c0c0" stroke-width="0.7"/>
<text x="305.00" y="236.84" font-size="6.2" font-weight="bold" text-anchor="end" textLength="7.07" lengthAdjust="spacingAndGlyphs" fill="#000" stroke="#000" stroke-width="0.24">0.8</text>
<line x1="307.50" y1="217.70" x2="462.80" y2="217.70" stroke="#c0c0c0" stroke-width="0.7"/>
<text x="305.00" y="219.90" font-size="6.2" font-weight="bold" text-anchor="end" textLength="2.83" lengthAdjust="spacingAndGlyphs" fill="#000" stroke="#000" stroke-width="0.24">1</text>
<line x1="307.50" y1="200.76" x2="462.80" y2="200.76" stroke="#c0c0c0" stroke-width="0.7"/>
<text x="305.00" y="202.96" font-size="6.2" font-weight="bold" text-anchor="end" textLength="7.07" lengthAdjust="spacingAndGlyphs" fill="#000" stroke="#000" stroke-width="0.24">1.2</text>
<line x1="309.00" y1="200.76" x2="309.00" y2="302.40" stroke="#999" stroke-width="0.7"/>
<rect x="315.00" y="217.70" width="6.90" height="84.70" fill="#000"/>
<rect x="321.90" y="219.39" width="6.80" height="83.01" fill="#6a6a6a"/>
<line x1="318.50" y1="217.28" x2="318.50" y2="217.70" stroke="#555" stroke-width="0.5"/>
<line x1="317.20" y1="217.28" x2="319.80" y2="217.28" stroke="#555" stroke-width="0.5"/>
<line x1="325.30" y1="217.70" x2="325.30" y2="219.39" stroke="#777" stroke-width="0.5"/>
<line x1="324.00" y1="217.70" x2="326.60" y2="217.70" stroke="#777" stroke-width="0.5"/>
<rect x="340.20" y="245.65" width="6.90" height="56.75" fill="#000"/>
<rect x="347.10" y="267.67" width="6.80" height="34.73" fill="#6a6a6a"/>
<line x1="343.70" y1="243.96" x2="343.70" y2="245.65" stroke="#555" stroke-width="0.5"/>
<line x1="342.40" y1="243.96" x2="345.00" y2="243.96" stroke="#555" stroke-width="0.5"/>
<line x1="350.50" y1="265.98" x2="350.50" y2="267.67" stroke="#777" stroke-width="0.5"/>
<line x1="349.20" y1="265.98" x2="351.80" y2="265.98" stroke="#777" stroke-width="0.5"/>
<rect x="366.00" y="243.96" width="6.90" height="58.44" fill="#000"/>
<rect x="372.90" y="257.51" width="6.80" height="44.89" fill="#6a6a6a"/>
<line x1="369.50" y1="238.87" x2="369.50" y2="243.96" stroke="#555" stroke-width="0.5"/>
<line x1="368.20" y1="238.87" x2="370.80" y2="238.87" stroke="#555" stroke-width="0.5"/>
<line x1="376.30" y1="253.27" x2="376.30" y2="257.51" stroke="#777" stroke-width="0.5"/>
<line x1="375.00" y1="253.27" x2="377.60" y2="253.27" stroke="#777" stroke-width="0.5"/>
<rect x="391.10" y="217.70" width="6.90" height="84.70" fill="#000"/>
<rect x="398.00" y="218.55" width="6.80" height="83.85" fill="#6a6a6a"/>
<line x1="394.60" y1="217.28" x2="394.60" y2="217.70" stroke="#555" stroke-width="0.5"/>
<line x1="393.30" y1="217.28" x2="395.90" y2="217.28" stroke="#555" stroke-width="0.5"/>
<line x1="401.40" y1="217.70" x2="401.40" y2="218.55" stroke="#777" stroke-width="0.5"/>
<line x1="400.10" y1="217.70" x2="402.70" y2="217.70" stroke="#777" stroke-width="0.5"/>
<rect x="416.30" y="244.80" width="6.90" height="57.60" fill="#000"/>
<rect x="423.20" y="266.83" width="6.80" height="35.57" fill="#6a6a6a"/>
<line x1="419.80" y1="240.99" x2="419.80" y2="244.80" stroke="#555" stroke-width="0.5"/>
<line x1="418.50" y1="240.99" x2="421.10" y2="240.99" stroke="#555" stroke-width="0.5"/>
<line x1="426.60" y1="264.28" x2="426.60" y2="266.83" stroke="#777" stroke-width="0.5"/>
<line x1="425.30" y1="264.28" x2="427.90" y2="264.28" stroke="#777" stroke-width="0.5"/>
<rect x="441.90" y="242.26" width="6.90" height="60.14" fill="#000"/>
<rect x="448.80" y="254.97" width="6.80" height="47.43" fill="#6a6a6a"/>
<line x1="445.40" y1="238.87" x2="445.40" y2="242.26" stroke="#555" stroke-width="0.5"/>
<line x1="444.10" y1="238.87" x2="446.70" y2="238.87" stroke="#555" stroke-width="0.5"/>
<line x1="452.20" y1="250.73" x2="452.20" y2="254.97" stroke="#777" stroke-width="0.5"/>
<line x1="450.90" y1="250.73" x2="453.50" y2="250.73" stroke="#777" stroke-width="0.5"/>
<polyline points="343.80,243.20 343.80,211.20 369.60,211.20 369.60,239.50" fill="none" stroke="#555" stroke-width="0.7"/>
<polyline points="350.60,265.13 350.60,231.60 376.40,231.60 376.40,252.00" fill="none" stroke="#555" stroke-width="0.7"/>
<text x="351.60" y="209.20" font-size="5.5" font-weight="bold" text-anchor="middle" textLength="9.00" lengthAdjust="spacingAndGlyphs" fill="#000" stroke="#000" stroke-width="0.24" font-style="italic">n.s.</text>
<text x="348.80" y="229.50" font-size="6.4" font-weight="bold" textLength="18.4" lengthAdjust="spacingAndGlyphs" stroke="#000" stroke-width="0.18"><tspan font-style="italic">P</tspan> &lt; 0.05</text>
<polyline points="419.50,241.00 419.50,209.60 445.20,209.60 445.20,238.00" fill="none" stroke="#555" stroke-width="0.7"/>
<polyline points="427.00,263.44 427.00,229.50 452.00,229.50 452.00,248.00" fill="none" stroke="#555" stroke-width="0.7"/>
<text x="426.00" y="207.20" font-size="5.5" font-weight="bold" text-anchor="middle" textLength="9.00" lengthAdjust="spacingAndGlyphs" fill="#000" stroke="#000" stroke-width="0.24" font-style="italic">n.s.</text>
<text x="424.90" y="226.90" font-size="6.4" font-weight="bold" textLength="18.4" lengthAdjust="spacingAndGlyphs" stroke="#000" stroke-width="0.18"><tspan font-style="italic">P</tspan> &lt; 0.05</text>
<rect x="468.70" y="246.20" width="2.40" height="2.40" fill="#000"/>
<text x="472.40" y="249.60" font-size="6.5" font-weight="bold" text-anchor="start" textLength="13.20" lengthAdjust="spacingAndGlyphs" fill="#000" stroke="#000" stroke-width="0.24">DMSO</text>
<rect x="468.70" y="253.70" width="2.40" height="2.50" fill="#7a7a7a"/>
<text x="472.40" y="256.90" font-size="6.5" font-weight="bold" text-anchor="start" textLength="46.20" lengthAdjust="spacingAndGlyphs" fill="#000" stroke="#000" stroke-width="0.24">Gefitinib (50 nmol/L)</text>
<text x="306.30" y="313.20" font-size="6" font-weight="bold" text-anchor="end" textLength="87.60" lengthAdjust="spacingAndGlyphs" fill="#000" stroke="#000" stroke-width="0.24">sc shRNA and/or control vector (1 ug)</text>
<text x="322.00" y="312.90" font-size="4.6" font-weight="bold" text-anchor="middle" textLength="2.42" lengthAdjust="spacingAndGlyphs" fill="#000" stroke="#000" stroke-width="0.24">+</text>
<text x="347.00" y="312.90" font-size="4.6" font-weight="bold" text-anchor="middle" textLength="2.42" lengthAdjust="spacingAndGlyphs" fill="#000" stroke="#000" stroke-width="0.24">−</text>
<text x="372.00" y="312.90" font-size="4.6" font-weight="bold" text-anchor="middle" textLength="2.42" lengthAdjust="spacingAndGlyphs" fill="#000" stroke="#000" stroke-width="0.24">−</text>
<text x="397.50" y="312.90" font-size="4.6" font-weight="bold" text-anchor="middle" textLength="2.42" lengthAdjust="spacingAndGlyphs" fill="#000" stroke="#000" stroke-width="0.24">+</text>
<text x="422.50" y="312.90" font-size="4.6" font-weight="bold" text-anchor="middle" textLength="2.42" lengthAdjust="spacingAndGlyphs" fill="#000" stroke="#000" stroke-width="0.24">−</text>
<text x="447.50" y="312.90" font-size="4.6" font-weight="bold" text-anchor="middle" textLength="2.42" lengthAdjust="spacingAndGlyphs" fill="#000" stroke="#000" stroke-width="0.24">−</text>
<text x="306.30" y="321.00" font-size="6" font-weight="bold" text-anchor="end" textLength="45.00" lengthAdjust="spacingAndGlyphs" fill="#000" stroke="#000" stroke-width="0.24">ANT2 shRNA (1 ug)</text>
<text x="322.00" y="320.70" font-size="4.6" font-weight="bold" text-anchor="middle" textLength="2.42" lengthAdjust="spacingAndGlyphs" fill="#000" stroke="#000" stroke-width="0.24">−</text>
<text x="347.00" y="320.70" font-size="4.6" font-weight="bold" text-anchor="middle" textLength="2.42" lengthAdjust="spacingAndGlyphs" fill="#000" stroke="#000" stroke-width="0.24">+</text>
<text x="372.00" y="320.70" font-size="4.6" font-weight="bold" text-anchor="middle" textLength="2.42" lengthAdjust="spacingAndGlyphs" fill="#000" stroke="#000" stroke-width="0.24">+</text>
<text x="397.50" y="320.70" font-size="4.6" font-weight="bold" text-anchor="middle" textLength="2.42" lengthAdjust="spacingAndGlyphs" fill="#000" stroke="#000" stroke-width="0.24">−</text>
<text x="422.50" y="320.70" font-size="4.6" font-weight="bold" text-anchor="middle" textLength="2.42" lengthAdjust="spacingAndGlyphs" fill="#000" stroke="#000" stroke-width="0.24">+</text>
<text x="447.50" y="320.70" font-size="4.6" font-weight="bold" text-anchor="middle" textLength="2.42" lengthAdjust="spacingAndGlyphs" fill="#000" stroke="#000" stroke-width="0.24">+</text>
<text x="306.30" y="329.00" font-size="6" font-weight="bold" text-anchor="end" textLength="73.40" lengthAdjust="spacingAndGlyphs" fill="#000" stroke="#000" stroke-width="0.24">HSP90 expression vector (1 ug)</text>
<text x="322.00" y="328.70" font-size="4.6" font-weight="bold" text-anchor="middle" textLength="2.42" lengthAdjust="spacingAndGlyphs" fill="#000" stroke="#000" stroke-width="0.24">−</text>
<text x="347.00" y="328.70" font-size="4.6" font-weight="bold" text-anchor="middle" textLength="2.42" lengthAdjust="spacingAndGlyphs" fill="#000" stroke="#000" stroke-width="0.24">−</text>
<text x="372.00" y="328.70" font-size="4.6" font-weight="bold" text-anchor="middle" textLength="2.42" lengthAdjust="spacingAndGlyphs" fill="#000" stroke="#000" stroke-width="0.24">+</text>
<text x="397.50" y="328.70" font-size="4.6" font-weight="bold" text-anchor="middle" textLength="2.42" lengthAdjust="spacingAndGlyphs" fill="#000" stroke="#000" stroke-width="0.24">−</text>
<text x="422.50" y="328.70" font-size="4.6" font-weight="bold" text-anchor="middle" textLength="2.42" lengthAdjust="spacingAndGlyphs" fill="#000" stroke="#000" stroke-width="0.24">−</text>
<text x="447.50" y="328.70" font-size="4.6" font-weight="bold" text-anchor="middle" textLength="2.42" lengthAdjust="spacingAndGlyphs" fill="#000" stroke="#000" stroke-width="0.24">+</text>
<line x1="313.80" y1="332.40" x2="381.20" y2="332.40" stroke="#333" stroke-width="0.8"/>
<line x1="390.00" y1="332.40" x2="458.00" y2="332.40" stroke="#333" stroke-width="0.8"/>
<text x="351.50" y="340.20" font-size="6" font-weight="bold" text-anchor="middle" textLength="33.50" lengthAdjust="spacingAndGlyphs" fill="#000" stroke="#000" stroke-width="0.24">H1975 (T790M)</text>
<text x="420.40" y="340.20" font-size="6" font-weight="bold" text-anchor="middle" textLength="73.50" lengthAdjust="spacingAndGlyphs" fill="#000" stroke="#000" stroke-width="0.24">HCC827/GR (MET amplification)</text>
</g>
</svg>
</body></html>
